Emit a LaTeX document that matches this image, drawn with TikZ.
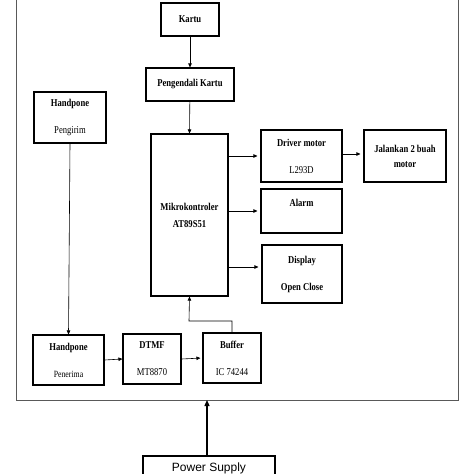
\documentclass[tikz,border=0pt]{standalone}
\usepackage{fontspec}
\usepackage{graphicx}
\setmainfont{Liberation Serif}
\newfontfamily\psfont{Liberation Sans}
\usetikzlibrary{arrows.meta}
\newcommand{\tx}[1]{\scalebox{0.82}[1]{#1}}
\begin{document}
\begin{tikzpicture}[x=1pt,y=-1pt,
  blk/.style={draw=black,line width=1.1pt,inner sep=0pt,align=center,
    font=\fontsize{10.5}{11}\selectfont},
  conn/.style={line width=0.6pt,-{Triangle[length=4pt,width=3.5pt]}},
  plain/.style={line width=0.6pt}]
\useasboundingbox (0,0) rectangle (474,474);
\fill[white] (0,0) rectangle (474,474);
% outer frame
\draw[line width=0.9pt,draw=black!65] (16,-10) rectangle (458,400);
% blocks
\node[blk,minimum width=58pt,minimum height=33pt] (kartu) at (190,19.5) {\tx{\bfseries Kartu}};
\node[blk,minimum width=88pt,minimum height=33pt] (peng) at (190,84.5) {\tx{\bfseries Pengendali Kartu}};
\node[blk,minimum width=72pt,minimum height=51pt] (hps) at (70,117.5) {\tx{\bfseries Handpone}\\[16pt]\tx{Pengirim}};
\node[blk,minimum width=77pt,minimum height=162pt] (mikro) at (189.5,215) {\tx{\bfseries Mikrokontroler}\\[6pt]\tx{\bfseries AT89S51}};
\node[blk,minimum width=81pt,minimum height=52pt] (drv) at (301.5,156) {\tx{\bfseries Driver motor}\\[16pt]\tx{L293D}};
\node[blk,minimum width=82pt,minimum height=52pt] (jal) at (405,156) {\tx{\bfseries Jalankan 2 buah}\\[4pt]\tx{\bfseries motor}};
\node[blk,minimum width=81pt,minimum height=44pt] (alarm) at (301.5,211) {\tx{\bfseries Alarm}\\[5pt]~};
\node[blk,minimum width=80pt,minimum height=58pt] (disp) at (302,274) {\tx{\bfseries Display}\\[16pt]\tx{\bfseries Open Close}};
\node[blk,minimum width=71pt,minimum height=50pt] (hpp) at (68.5,360) {\tx{\bfseries Handpone}\\[16pt]\tx{\fontsize{9.5}{10}\selectfont Penerima}};
\node[blk,minimum width=58pt,minimum height=50pt] (dtmf) at (152,359) {\tx{\bfseries DTMF}\\[16pt]\tx{MT8870}};
\node[blk,minimum width=58pt,minimum height=50pt] (buf) at (232,358) {\tx{\bfseries Buffer}\\[16pt]\tx{IC 74244}};
\node[draw=black,line width=1.1pt,minimum width=132pt,minimum height=40pt,inner sep=0pt] (ps) at (209,476) {};
\node[font=\psfont\fontsize{12}{12}\selectfont,anchor=base,inner sep=0pt] (pstext) at (209,471) {Power Supply};
\coordinate (frameb) at (207,400);
% connectors
\draw[conn] (kartu) -- (peng);
\draw[conn] (peng) -- (mikro.north);
\draw[conn] (hps.south) -- (hpp.north);
\draw[conn,shorten >=3pt] (mikro.east |- drv) -- (drv.west);
\draw[conn,shorten >=3pt] (drv.east |- 0,154) -- (jal.west |- 0,154);
\draw[conn,shorten >=3pt] (mikro.east |- alarm) -- (alarm.west);
\draw[conn,shorten >=3pt] (mikro.east |- 0,267) -- (disp.west |- 0,267);
\draw[conn] (hpp.east) -- (dtmf.west);
\draw[conn,shorten >=2pt] (dtmf.east) -- (buf.west);
\draw[conn] (buf.north) |- (189,321) -- (mikro.south);
\draw[line width=1.3pt,-{Triangle[length=6pt,width=5pt]}] (ps.north -| frameb) -- (frameb);
\end{tikzpicture}
\end{document}
